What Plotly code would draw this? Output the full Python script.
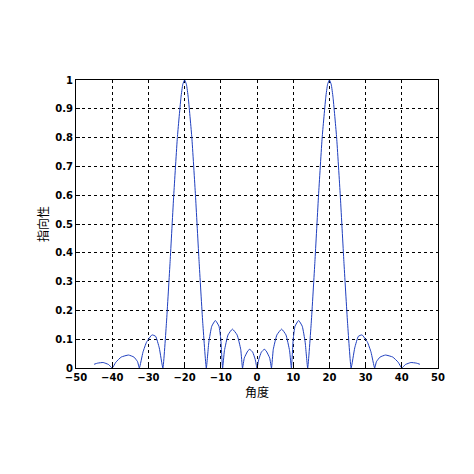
import plotly.graph_objects as go

# angle (deg) and directivity
angle = [-45, -44, -42.5, -41, -40,
         -39, -37.5, -35.5, -34, -33, -32.5,
         -31.5, -30.5, -29, -28, -27, -26,
         -25, -24, -23, -22, -21, -20.5, -20, -19.5, -19, -18, -17, -16, -15, -14,
         -13.3, -12.5, -11.5, -10.5, -10, -9.5,
         -9, -8, -6.8, -5.5, -4.5, -4,
         -3.5, -2.5, -2, -1.2, -0.5, 0,
         0.5, 1.2, 2, 2.5, 3.5, 4,
         4.5, 5.5, 6.8, 8, 9, 9.5,
         10, 10.5, 11.5, 12.5, 13.3, 14,
         15, 16, 17, 18, 19, 19.5, 20, 20.5, 21, 22, 23, 24, 25, 26,
         27, 28, 29, 30.5, 31.5, 32.5,
         33, 34, 35.5, 37.5, 39, 40,
         41, 42.5, 44, 45]
directivity = [0.013, 0.017, 0.019, 0.012, 0,
               0.02, 0.038, 0.045, 0.038, 0.022, 0,
               0.055, 0.09, 0.115, 0.11, 0.07, 0,
               0.16, 0.37, 0.6, 0.8, 0.94, 0.985, 1.0, 0.985, 0.94, 0.8, 0.6, 0.37, 0.16, 0,
               0.09, 0.145, 0.165, 0.145, 0.1, 0,
               0.06, 0.115, 0.135, 0.115, 0.065, 0,
               0.035, 0.06, 0.065, 0.055, 0.03, 0,
               0.03, 0.055, 0.065, 0.06, 0.035, 0,
               0.065, 0.115, 0.135, 0.115, 0.06, 0,
               0.1, 0.145, 0.165, 0.145, 0.09, 0,
               0.16, 0.37, 0.6, 0.8, 0.94, 0.985, 1.0, 0.985, 0.94, 0.8, 0.6, 0.37, 0.16, 0,
               0.07, 0.11, 0.115, 0.09, 0.055, 0,
               0.022, 0.038, 0.045, 0.038, 0.02, 0,
               0.012, 0.019, 0.017, 0.013]

fig = go.Figure(go.Scatter(x=angle, y=directivity, mode='lines', line_shape='spline',
                           line=dict(color='#1f3fbf', width=1, smoothing=0.4)))

axis_style = dict(showline=True, linecolor='black', linewidth=1, mirror=True,
                  showgrid=True, gridcolor='black', griddash='dot', gridwidth=1,
                  ticks='inside', ticklen=4, tickcolor='black', zeroline=False,
                  tickfont=dict(family='DejaVu Sans', size=10, color='black', weight='bold'))
fig.update_xaxes(range=[-50, 50], dtick=10, title=dict(text='角度', standoff=2,
                 font=dict(family='Noto Sans CJK SC', size=12, color='black')), **axis_style)
fig.update_yaxes(range=[0, 1], dtick=0.1, tickformat='.1~f', title=dict(text='指向性', standoff=4,
                 font=dict(family='Noto Sans CJK SC', size=12, color='black')), **axis_style)
fig.update_layout(width=474, height=474, plot_bgcolor='white', paper_bgcolor='white',
                  showlegend=False, margin=dict(l=68, r=44, t=72, b=114))
fig.write_html("out.html")
